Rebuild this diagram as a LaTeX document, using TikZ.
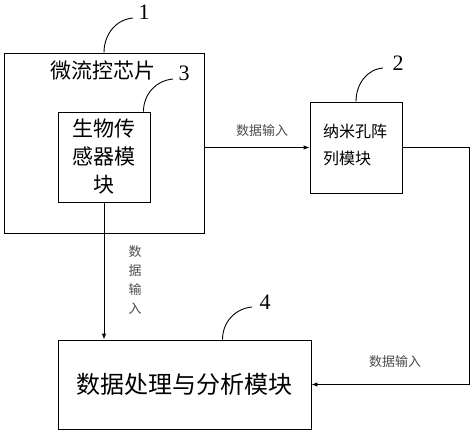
\documentclass[tikz,border=0pt]{standalone}
\usepackage{fontspec}
\setmainfont{Liberation Serif}
\newfontfamily\cjk{Noto Sans CJK SC}
\usetikzlibrary{calc,arrows.meta}

\begin{document}
\begin{tikzpicture}[x=1pt,y=-1pt,line width=0.9pt,
    box/.style={draw,rectangle,inner sep=0pt},
    flow/.style={-{Latex[length=6pt,width=4.5pt]}},
    tag/.style={font=\fontsize{13}{18.7}\selectfont\cjk,text=black!70},
    num/.style={font=\fontsize{22}{22}\selectfont}]
      \useasboundingbox (0,0) rectangle (474,434);
      \node[box,minimum width=200pt,minimum height=180pt] (chip) at (104,143) {};
      \node[font=\fontsize{21}{21}\selectfont\cjk] (chiptext) at (103,71) {微流控芯片};
      \node[box,minimum width=92pt,minimum height=90pt,align=center,
        font=\fontsize{21}{28}\selectfont\cjk] (sensor) at (104,157) {生物传\\感器模\\块};
      \node[box,minimum width=92pt,minimum height=91pt] (nano) at (356,147.5) {};
      \node[align=left,font=\fontsize{16}{27}\selectfont\cjk] (nanotext) at (355,144.5) {纳米孔阵\\列模块};
      \node[box,minimum width=253pt,minimum height=89pt,
        font=\fontsize{24}{24}\selectfont\cjk] (proc) at (184.5,384.5) {数据处理与分析模块};
      \draw[flow] (chip.east |- nano.west) -- (nano.west);
      \node[tag] (in1) at (262,131) {数据输入};
      \draw[flow] (sensor.south) -- (sensor.south |- proc.north);
      \node[tag,align=center] (in2) at (135,280) {数\\据\\输\\入};
      \draw[flow] (nano.east) -- ++(67,0) |- (proc.east);
      \node[tag] (in3) at (395,362) {数据输入};
      % reference numerals
      \node[num] (n1) at (144,12) {1};
      \coordinate (c1) at (133,18);
      \draw (chip.north) to[out=90,in=185] (c1);
      \node[num] (n3) at (184,73) {3};
      \coordinate (c3) at (173,79);
      \draw ($(sensor.north east)+(-7,0)$) to[out=90,in=185] (c3);
      \node[num] (n2) at (398,63) {2};
      \coordinate (c2) at (383,68);
      \draw (nano.north) to[out=90,in=185] (c2);
      \node[num] (n4) at (265,302) {4};
      \coordinate (c4) at (252,307);
      \draw ($(proc.north)+(38,0)$) to[out=90,in=185] (c4);
    \end{tikzpicture}
\end{document}
